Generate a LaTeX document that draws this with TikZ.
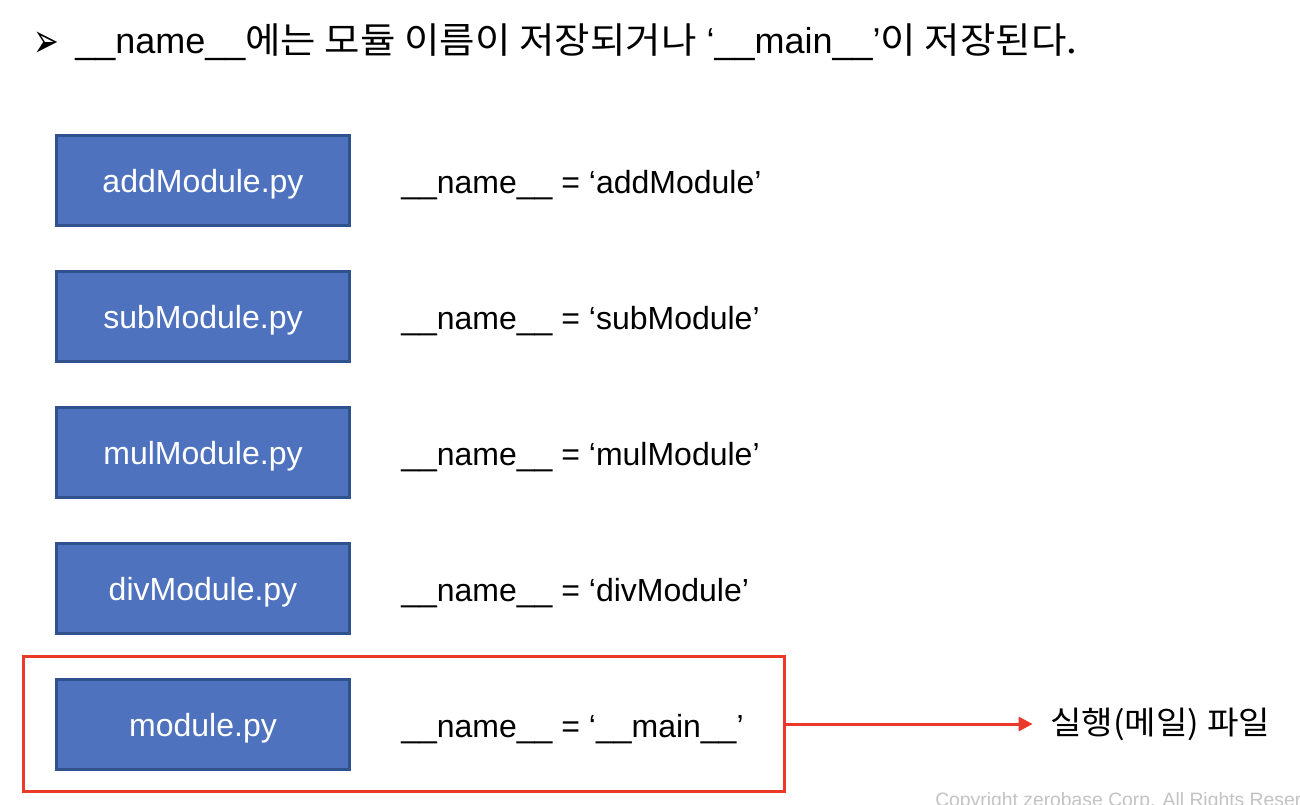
\documentclass[tikz,border=0pt]{standalone}
\usepackage{fontspec}
\setmainfont{Liberation Sans}
\newfontfamily\krfont[FakeStretch=1.07]{Noto Sans CJK KR}
\newfontfamily\krlabelfont[FakeStretch=1.07]{Noto Sans CJK KR}
\newfontfamily\symfont{DejaVu Sans}
\usetikzlibrary{positioning}
\usetikzlibrary{arrows.meta}
\definecolor{boxblue}{RGB}{79,114,190}
\definecolor{boxedge}{RGB}{47,82,143}
\definecolor{framered}{RGB}{234,56,42}
\definecolor{copygray}{RGB}{195,195,195}
\tikzset{
  % Common styles for the module diagram
  modbox/.style={draw=boxedge, fill=boxblue, line width=2.25pt, rectangle, minimum width=219.75pt, minimum height=67.5pt, text=white, text depth=0pt, font=\fontsize{24}{28}\selectfont},
  namelabel/.style={inner sep=0pt, font=\fontsize{24}{28}\selectfont},
  mainframe/.style={draw=framered, line width=2.25pt, rectangle, minimum width=570.75pt, minimum height=101.25pt},
  redline/.style={draw=framered, line width=2.25pt, -{Triangle[length=10.5pt,width=10.5pt]}}
}

\begin{document}
\begin{tikzpicture}[x=0.75pt, y=-0.75pt, node distance=32.25pt]
    % Page size
    \clip (0,0) rectangle (1300,804);
    \fill[white] (0,0) rectangle (1300,804);

    % Title
    \node [anchor=base west, inner sep=0pt, font=\fontsize{36}{40}\symfont] (bullet) at (33,57) {\scalebox{0.64}[1]{➢}};
    \node [anchor=base west, inner sep=0pt, font=\fontsize{27}{32}\selectfont] (title) at (75,53) {\_\_name\_\_{\krfont 에는 모듈 이름이 저장되거나} ‘\_\_main\_\_’{\krfont 이 저장된다.}};

    % Module boxes
    \node [modbox] (add) at (203,180.5) {addModule.py};
    \node [modbox, below=of add] (sub) {subModule.py};
    \node [modbox, below=of sub] (mul) {mulModule.py};
    \node [modbox, below=of mul] (div) {divModule.py};
    \node [modbox, below=of div] (mod) {module.py};

    % Name values
    \node [namelabel, right=37.5pt of add.base east, anchor=base west, yshift=-1pt] (addname) {\_\_name\_\_ = ‘addModule’};
    \node [namelabel, right=37.5pt of sub.base east, anchor=base west, yshift=-1pt] (subname) {\_\_name\_\_ = ‘subModule’};
    \node [namelabel, right=37.5pt of mul.base east, anchor=base west, yshift=-1pt] (mulname) {\_\_name\_\_ = ‘mulModule’};
    \node [namelabel, right=37.5pt of div.base east, anchor=base west, yshift=-1pt] (divname) {\_\_name\_\_ = ‘divModule’};
    \node [namelabel, right=37.5pt of mod.base east, anchor=base west, yshift=-1pt] (modname) {\_\_name\_\_ = ‘\_\_main\_\_’};

    % Main file frame
    \node [mainframe] (frame) at (404,724) {};
    \node [namelabel, inner xsep=13pt, right=185pt of frame, font=\fontsize{24}{28}\krlabelfont] (runfile) {실행(메일) 파일};
    \path [redline] (frame) -- (runfile);

    % Footer
    \node [anchor=base west, inner sep=0pt, text=copygray, font=\fontsize{14.5}{17}\selectfont] (copyright) at (935,806) {Copyright zerobase Corp. All Rights Reserved.};
\end{tikzpicture}
\end{document}
